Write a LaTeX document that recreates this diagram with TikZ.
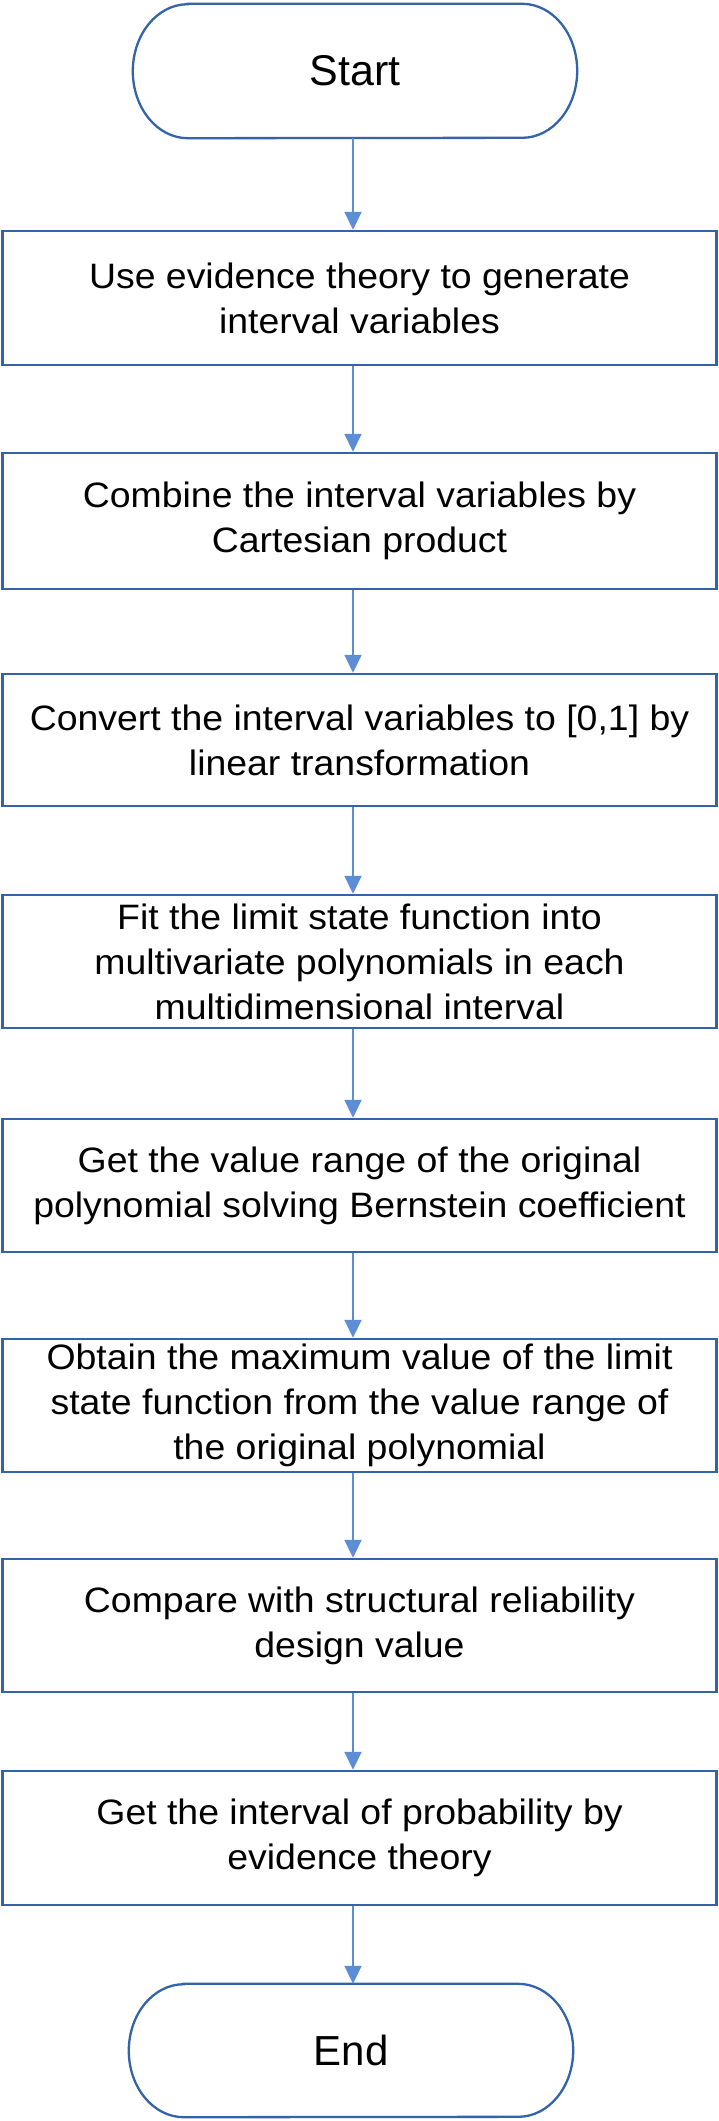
\documentclass[tikz,border=0pt]{standalone}
\usepackage{fontspec}
\setmainfont{Liberation Sans}
\newfontfamily\boxfont[FakeStretch=1.06]{Liberation Sans}
\usetikzlibrary{arrows.meta}
\definecolor{borderblue}{HTML}{3563A8}
\definecolor{arrowblue}{HTML}{5B8ED4}
\tikzset{
  x=1pt,y=1pt,
  stepbox/.style={draw=borderblue, line width=2.5pt, fill=white, rectangle,
    minimum width=714pt, inner sep=0pt, align=center,
    font=\boxfont\fontsize{35.3pt}{45pt}\selectfont},
  termtext/.style={inner sep=0pt, minimum width=444pt, font=\fontsize{43pt}{50pt}\selectfont},
  termline/.style={draw=borderblue, line width=2.3pt},
  flow/.style={draw=arrowblue, line width=2pt, -{Triangle[width=17pt,length=18pt]}},
}
\begin{document}
\begin{tikzpicture}
\useasboundingbox (0,0) rectangle (718,-2121);
\fill[white] (0,0) rectangle (718,-2121);
\coordinate (ax) at (353,0);

% Start terminal
\node[termtext, minimum height=134pt] (start) at (355,-71) {Start};
\draw[termline] ([xshift=55pt]start.north west) -- ([xshift=-55pt]start.north east)
  arc[start angle=90,end angle=-90,x radius=55pt,y radius=67pt]
  -- ([xshift=55pt]start.south west)
  arc[start angle=270,end angle=90,x radius=55pt,y radius=67pt] -- cycle;

\node[stepbox, minimum height=134pt] (b1) at (359.5,-298) {Use evidence theory to generate\\interval variables};
\node[stepbox, minimum height=136pt] (b2) at (359.5,-521) {Combine the interval variables by\\Cartesian product};
\node[stepbox, minimum height=132pt] (b3) at (359.5,-740) {Convert the interval variables to [0,1] by\\linear transformation};
\node[stepbox, minimum height=133pt] (b4) at (359.5,-961.5) {Fit the limit state function into\\multivariate polynomials in each\\multidimensional interval};
\node[stepbox, minimum height=133pt] (b5) at (359.5,-1185.5) {Get the value range of the original\\polynomial solving Bernstein coefficient};
\node[stepbox, minimum height=133pt] (b6) at (359.5,-1405.5) {Obtain the maximum value of the limit\\state function from the value range of\\the original polynomial};
\node[stepbox, minimum height=133pt] (b7) at (359.5,-1625.5) {Compare with structural reliability\\design value};
\node[stepbox, minimum height=134pt] (b8) at (359.5,-1838) {Get the interval of probability by\\evidence theory};

% End terminal
\node[termtext, minimum height=133pt, font=\fontsize{42pt}{50pt}\selectfont] (end) at (351,-2050.5) {End};
\draw[termline] ([xshift=55pt]end.north west) -- ([xshift=-55pt]end.north east)
  arc[start angle=90,end angle=-90,x radius=55pt,y radius=66.5pt]
  -- ([xshift=55pt]end.south west)
  arc[start angle=270,end angle=90,x radius=55pt,y radius=66.5pt] -- cycle;

% connectors
\draw[flow] (start.south -| ax) -- (b1.north -| ax);
\draw[flow] (b1.south -| ax) -- (b2.north -| ax);
\draw[flow] (b2.south -| ax) -- (b3.north -| ax);
\draw[flow] (b3.south -| ax) -- (b4.north -| ax);
\draw[flow] (b4.south -| ax) -- (b5.north -| ax);
\draw[flow] (b5.south -| ax) -- (b6.north -| ax);
\draw[flow] (b6.south -| ax) -- (b7.north -| ax);
\draw[flow] (b7.south -| ax) -- (b8.north -| ax);
\draw[flow] (b8.south -| ax) -- (end.north -| ax);
\end{tikzpicture}
\end{document}
